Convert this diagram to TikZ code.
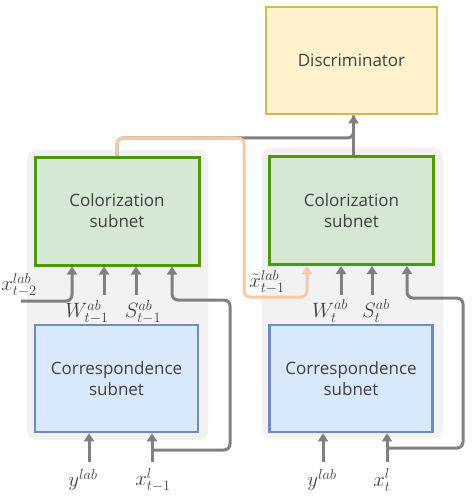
\documentclass[tikz,border=0pt]{standalone}
\usepackage{fontspec}
\setmainfont{Open Sans}
\usetikzlibrary{arrows.meta,calc}
\definecolor{lineg}{HTML}{808080}
\definecolor{panelg}{HTML}{F2F2F2}
\definecolor{colfill}{HTML}{D5E8D4}
\definecolor{coldraw}{HTML}{4E9A06}
\definecolor{corfill}{HTML}{DAE8FC}
\definecolor{cordraw}{HTML}{6C8EBF}
\definecolor{disfill}{HTML}{FFF2CC}
\definecolor{disdraw}{HTML}{D6B656}
\definecolor{orng}{HTML}{F9C9A3}
\definecolor{txt}{HTML}{404040}
\begin{document}
\begin{tikzpicture}[x=1pt,y=-1pt,
  panel/.style={fill=panelg,draw=none,rounded corners=9pt,inner sep=0pt},
  colbox/.style={fill=colfill,draw=coldraw,line width=3pt,minimum width=164pt,minimum height=108pt,text=txt,align=center,font=\fontsize{17}{21}\selectfont,inner sep=0pt},
  corbox/.style={fill=corfill,draw=cordraw,line width=2.6pt,minimum width=163pt,minimum height=107pt,text=txt,align=center,font=\fontsize{17}{21}\selectfont,inner sep=0pt},
  disbox/.style={fill=disfill,draw=disdraw,line width=2.6pt,minimum width=171pt,minimum height=107pt,text=txt,align=center,font=\fontsize{17}{21}\selectfont,inner sep=0pt},
  arr/.style={draw=lineg,line width=3pt,rounded corners=6pt,-{Triangle[width=10pt,length=8pt]}},
  plain/.style={draw=lineg,line width=3pt,rounded corners=6pt},
  oarr/.style={draw=orng,line width=3pt,rounded corners=6pt,-{Triangle[width=10pt,length=8pt]}},
  lab/.style={inner sep=0pt,text=txt,font=\fontsize{20}{22}\selectfont}
]
\useasboundingbox (0,0) rectangle (474,497);
% panels
\node[panel,minimum width=181pt,minimum height=290pt] (p1) at (117.5,295) {};
\node[panel,minimum width=181pt,minimum height=290pt] (p2) at (352.5,293) {};
% boxes
\node[disbox] (disc) at (351.5,60.5) {Discriminator};
\node[colbox] (col1) at (117,211) {Colorization\\subnet};
\node[colbox] (col2) at (351.5,210.5) {Colorization\\subnet};
\node[corbox] (cor1) at (116.5,378.5) {Correspondence\\subnet};
\node[corbox] (cor2) at (351,378.5) {Correspondence\\subnet};
% coordinates
\coordinate (top) at (117,138);
\coordinate (merge) at (353.5,138);
\coordinate (obend) at (244,138);
\coordinate (obot) at (244,297);
\coordinate (xin1) at (21,301);
\coordinate (w1) at (104,295);
\coordinate (s1) at (136,295);
\coordinate (w2) at (341,295);
\coordinate (s2) at (372,295);
\coordinate (y1) at (89,462);
\coordinate (xl1) at (152,462);
\coordinate (y2) at (323,462);
\coordinate (xl2) at (387,462);
\coordinate (j1) at (152,450);
\coordinate (j2) at (387,448);
\coordinate (r1) at (230,300);
\coordinate (r2) at (463,298);
% gray to discriminator
\draw[plain] (col1.north) -- (top) -- (merge) -- ([xshift=2pt]disc.south);
\draw[arr] ([xshift=2pt]col2.north) -- ([xshift=2pt]disc.south);
% orange
\draw[oarr] (col1.north) -- (top) -- (obend) -- (obot) -| ([xshift=-44.5pt]col2.south);
% left inputs
\draw[arr] (xin1) -| ([xshift=-45pt]col1.south);
\draw[arr] (w1) -- (w1 |- col1.south);
\draw[arr] (s1) -- (s1 |- col1.south);
\draw[arr] (j1) -| (r1) -| ([xshift=55pt]col1.south);
\draw[arr] (y1) -- (y1 |- cor1.south);
\draw[arr] (xl1) -- (xl1 |- cor1.south);
% right inputs
\draw[arr] (w2) -- (w2 |- col2.south);
\draw[arr] (s2) -- (s2 |- col2.south);
\draw[arr] (j2) -| (r2) -| ([xshift=55.5pt]col2.south);
\draw[arr] (y2) -- (y2 |- cor2.south);
\draw[arr] (xl2) -- (xl2 |- cor2.south);
% labels
\node[lab] (lx1) at (19,285) {$x_{t-2}^{lab}$};
\node[lab] (lw1) at (87,312) {$W_{t-1}^{ab}$};
\node[lab] (ls1) at (143,312) {$S_{t-1}^{ab}$};
\node[lab] (lxt) at (267,282) {$\tilde{x}_{t-1}^{lab}$};
\node[lab] (lw2) at (330,311) {$W_{t}^{ab}$};
\node[lab] (ls2) at (376,311) {$S_{t}^{ab}$};
\node[lab] (ly1) at (83,480) {$y^{lab}$};
\node[lab] (lxl1) at (153,480) {$x_{t-1}^{l}$};
\node[lab] (ly2) at (322,480) {$y^{lab}$};
\node[lab] (lxl2) at (382,480) {$x_{t}^{l}$};
\end{tikzpicture}
\end{document}
